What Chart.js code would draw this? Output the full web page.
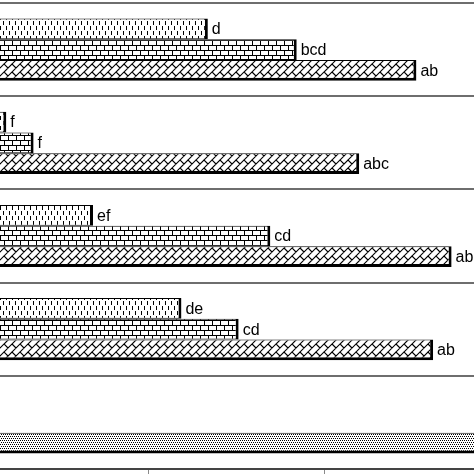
<!DOCTYPE html>
<html>
<head>
<meta charset="utf-8">
<script src="https://cdn.jsdelivr.net/npm/chart.js@4/dist/chart.umd.min.js"></script>
<style>
  html, body { margin: 0; padding: 0; overflow: hidden; background: #fff; width: 474px; height: 474px; }
  #wrap { position: absolute; left: -28px; top: 0; width: 528px; height: 489px; }
</style>
</head>
<body>
<div id="wrap"><canvas id="c"></canvas></div>
<script>
// ---- data ----
const categories = ['G1', 'G2', 'G3', 'G4', 'G5'];
const series1 = [26.8, 3.9, 13.75, 23.8, null];
const series2 = [36.9, 7.0, 33.9, 30.3, null];
const series3 = [50.5, 44.0, 54.5, 52.4, 60];
const letters1 = ['d', 'f', 'ef', 'de', ''];
const letters2 = ['bcd', 'f', 'cd', 'cd', ''];
const letters3 = ['ab', 'abc', 'ab', 'ab', ''];
const xMin = 0, xMax = 60, xStep = 20;

// ---- patterns ----
const baseCtx = document.getElementById('c').getContext('2d');
function makePattern(w, h, draw) {
  const c = document.createElement('canvas');
  c.width = w; c.height = h;
  const g = c.getContext('2d');
  g.fillStyle = '#fff'; g.fillRect(0, 0, w, h);
  g.fillStyle = '#000'; g.strokeStyle = '#000';
  draw(g, w, h);
  return baseCtx.createPattern(c, 'repeat');
}
const patDash = makePattern(6, 10, g => {
  g.fillRect(1, 1, 1, 4);
  g.fillRect(4, 6, 1, 4);
});
const patBrick = makePattern(8, 10, g => {
  g.fillRect(0, 0, 8, 1);
  g.fillRect(0, 5, 8, 1);
  g.fillRect(0, 0, 1, 5);
  g.fillRect(4, 5, 1, 5);
});
const patWeave = makePattern(16, 16, g => {
  const P = 8, T = 16;
  g.lineWidth = 1.1;
  g.beginPath();
  for (const ox of [-T, 0, T]) for (const oy of [-T, 0, T]) {
    for (let s = 0; s <= 2 * T; s += P) {
      g.moveTo(ox + s, oy); g.lineTo(ox, oy + s);
    }
    for (let k = 0; k < 4; k++) {
      const c = (k % 2 === 0) ? 0 : P;
      const x1 = (P * k + c) / 2, y1 = (P * k - c) / 2;
      const x2 = (P * k + P + c) / 2, y2 = (P * k + P - c) / 2;
      g.moveTo(ox + x1, oy + y1); g.lineTo(ox + x2, oy + y2);
    }
  }
  g.stroke();
});
const patStipple = makePattern(4, 4, g => {
  g.fillRect(0, 0, 1, 1);
  g.fillRect(2, 0, 1, 1);
  g.fillRect(1, 2, 1, 1);
  g.fillRect(3, 2, 1, 1);
});

// ---- letter labels plugin ----
const letterPlugin = {
  id: 'letters',
  afterDatasetsDraw(chart) {
    const ctx = chart.ctx;
    const sets = [letters1, letters2, letters3];
    ctx.save();
    ctx.font = '16px "Liberation Sans", Arial, sans-serif';
    ctx.fillStyle = '#000';
    ctx.textBaseline = 'middle';
    ctx.textAlign = 'left';
    chart.data.datasets.forEach((ds, i) => {
      const meta = chart.getDatasetMeta(i);
      meta.data.forEach((el, j) => {
        const t = sets[i][j];
        if (!t || ds.data[j] == null) return;
        ctx.fillText(t, el.x + 4, el.y + 1);
      });
    });
    ctx.restore();
  }
};

new Chart(document.getElementById('c'), {
  type: 'bar',
  data: {
    labels: categories,
    datasets: [
      { data: series1, backgroundColor: patDash, borderColor: '#000',
        borderWidth: { top: 1, right: 3, bottom: 1, left: 1 }, borderSkipped: false },
      { data: series2, backgroundColor: patBrick, borderColor: '#000',
        borderWidth: { top: 1, right: 3, bottom: 1, left: 1 }, borderSkipped: false },
      { data: series3, backgroundColor: series3.map((v, i) => i === series3.length - 1 ? patStipple : patWeave),
        borderColor: '#000',
        borderWidth: { top: 1, right: 3, bottom: 3, left: 1 }, borderSkipped: false }
    ]
  },
  options: {
    indexAxis: 'y',
    responsive: true,
    maintainAspectRatio: false,
    animation: false,
    layout: { padding: { top: 3, left: 0, right: 0, bottom: 0 } },
    datasets: { bar: { categoryPercentage: 0.667, barPercentage: 1.0 } },
    plugins: { legend: { display: false }, tooltip: { enabled: false } },
    scales: {
      x: {
        type: 'linear', min: xMin, max: xMax,
        ticks: { stepSize: xStep, display: false },
        grid: { drawOnChartArea: false, drawTicks: true, tickLength: 8, color: '#8a8a8a', lineWidth: 1 },
        border: { color: '#444', width: 2 },
        afterFit(s) { s.height = 20; }
      },
      y: {
        type: 'category',
        ticks: { display: false },
        grid: { color: '#6e6e6e', lineWidth: 2, drawTicks: false, offset: true },
        border: { display: false },
        afterFit(s) { s.width = 0; }
      }
    }
  },
  plugins: [letterPlugin]
});
</script>
</body>
</html>
